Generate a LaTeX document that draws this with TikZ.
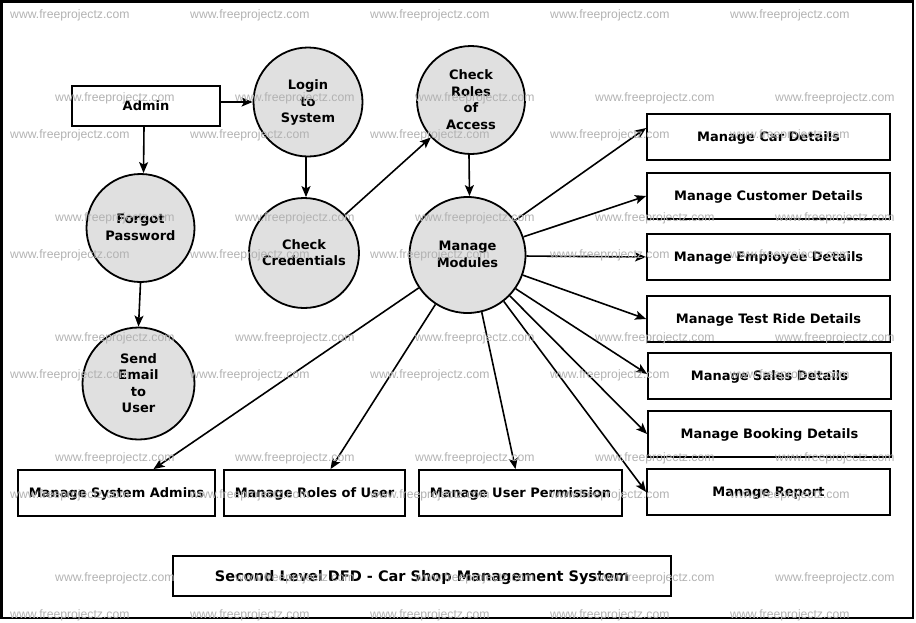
\documentclass[tikz,border=0pt]{standalone}
\usepackage{fontspec}
\setmainfont{DejaVu Sans}
\newfontfamily\wmfont{Liberation Sans}
\usetikzlibrary{arrows.meta,calc}
\definecolor{procfill}{RGB}{224,224,224}
\definecolor{wmgray}{RGB}{178,178,178}
\begin{document}
\begin{tikzpicture}[x=1pt,y=-1pt,
  proc/.style={circle,draw,line width=1.8pt,fill=procfill,inner sep=0pt,align=center,text depth=1pt,font=\fontsize{13}{16.5}\selectfont\bfseries},
  ent/.style={rectangle,draw,line width=1.8pt,fill=white,inner sep=0pt,align=center,text depth=0pt,font=\fontsize{13}{16}\selectfont\bfseries},
  arr/.style={line width=1.6pt,-{Stealth[length=11pt,width=9pt,inset=2.5pt]}},
  wm/.style={anchor=west,inner sep=0pt,text=wmgray,font=\wmfont\fontsize{12.2}{14}\selectfont}]
\useasboundingbox (0,0) rectangle (916,622);
\draw[line width=2.5pt] (1.5,1.5) rectangle (913,618);

% processes
\node[proc,minimum size=109pt] (login) at (308,102) {Login\\to\\System};
\node[proc,minimum size=108pt] (cr) at (471,100) {Check\\Roles\\of\\Access};
\node[proc,minimum size=108pt] (fp) at (140.5,228) {Forgot\\Password};
\node[proc,minimum size=110pt] (cc) at (304,253) {Check\\Credentials};
\node[proc,minimum size=116pt] (mm) at (467.5,255) {Manage\\Modules};
\node[proc,minimum size=112pt] (se) at (138.5,383.5) {Send\\Email\\to\\User};

% entities
\node[ent,minimum width=148pt,minimum height=40pt] (admin) at (146,106) {Admin};
\node[ent,minimum width=243pt,minimum height=46pt] (car) at (768.5,137) {Manage Car Details};
\node[ent,minimum width=243pt,minimum height=46pt] (cust) at (768.5,196) {Manage Customer Details};
\node[ent,minimum width=243pt,minimum height=46pt] (emp) at (768.5,257) {Manage Employee Details};
\node[ent,minimum width=243pt,minimum height=46pt] (test) at (768.5,319) {Manage Test Ride Details};
\node[ent,minimum width=243pt,minimum height=46pt] (sales) at (769.5,376) {Manage Sales Details};
\node[ent,minimum width=243pt,minimum height=46pt] (book) at (769.5,434) {Manage Booking Details};
\node[ent,minimum width=243pt,minimum height=46pt] (rep) at (768.5,492) {Manage Report};
\node[ent,minimum width=197pt,minimum height=46pt] (sysadm) at (116.5,493) {Manage System Admins};
\node[ent,minimum width=181pt,minimum height=46pt] (roles) at (314.5,493) {Manage Roles of User};
\node[ent,minimum width=203pt,minimum height=46pt] (perm) at (520.5,493) {Manage User Permission};
\node[ent,minimum width=498pt,minimum height=40pt,font=\fontsize{14.5}{17}\selectfont\bfseries] (title) at (422,576) {Second Level DFD - Car Shop Management System};

% flows
\draw[arr] (admin.east |- login.west) -- (login.west);
\draw[arr] ([xshift=-2pt]admin.south) -- ([xshift=3pt]fp.north);
\draw[arr] ([xshift=-2pt]login.south) -- ([xshift=2pt]cc.north);
\draw[arr] (cc.43) -- (cr.223);
\draw[arr] ([xshift=-2pt]cr.south) -- ([xshift=2pt]mm.north);
\draw[arr] (fp.south) -- (se.north);
\draw[arr] (mm.36) -- ([yshift=9pt]car.west);
\draw[arr] (mm.18) -- (cust.west);
\draw[arr] (mm.-1) -- (emp.west);
\draw[arr] (mm.-20) -- (test.west);
\draw[arr] (mm.-35) -- ([yshift=2pt]sales.west);
\draw[arr] (mm.-44) -- (book.west);
\draw[arr] (mm.-52) -- (rep.west);
\draw[arr] (mm.214) -- ([xshift=37pt]sysadm.north);
\draw[arr] (mm.237) -- ([xshift=16pt]roles.north);
\draw[arr] (mm.284) -- ([xshift=-5pt]perm.north);

% watermarks
\foreach \r in {0,...,5} \foreach \c in {0,...,4}
  \node[wm] (wa-\r-\c) at (10+180*\c, 15+120*\r) {www.freeprojectz.com};
\foreach \r in {0,...,4} \foreach \c in {0,...,4}
  \node[wm] (wb-\r-\c) at (55+180*\c, 98+120*\r) {www.freeprojectz.com};
\end{tikzpicture}
\end{document}
